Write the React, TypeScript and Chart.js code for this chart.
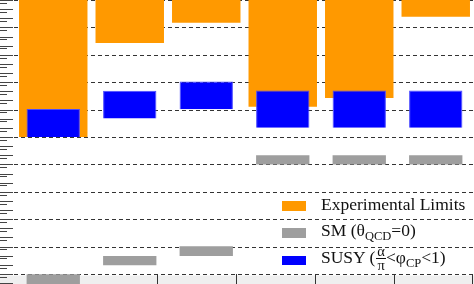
import React, { useEffect, useRef } from "react";
import { Chart, registerables } from "chart.js";

Chart.register(...registerables);

// Categories (axis labels are outside the visible crop)
const categories = ["A", "B", "C", "D", "E", "F"];

// Experimental limits: floating bars from the limit up beyond the top
const expLimitLow = [1.0e5, 2.7e8, 1.48e9, 1.27e6, 2.65e6, 2.46e9];
const expLimitHigh = [1e11, 1e11, 1e11, 1e11, 1e11, 1e11];

// Standard Model predictions
const smLow = [0.3, 2.07, 4.54, 1.0e4, 1.0e4, 1.0e4];
const smHigh = [0.98, 4.54, 10.3, 2.15e4, 2.15e4, 2.15e4];

// SUSY predictions
const susyLow = [1.0e5, 4.7e5, 1.02e6, 2.18e5, 2.18e5, 2.18e5];
const susyHigh = [1.05e6, 4.9e6, 1.07e7, 5.0e6, 5.0e6, 5.0e6];

// Axis range and grid decades
const yMin = 0.4314;
const yMax = 1e10;
const gridDecades = [1, 1e1, 1e2, 1e3, 1e4, 1e5, 1e6, 1e7, 1e8, 1e9, 1e10];
const tickDecadeExponents = [-1, 0, 1, 2, 3, 4, 5, 6, 7, 8, 9, 10];
const longTickOffsets = [0, 1 / 3, 2 / 3];
const shortTickOffset = 0.1;
// bottom frame ticks, in category-index units of the x scale
const frameTicks = [0.33, 1.365, 2.4, 3.43, 4.465, 5.49];

const framePlugin = {
  id: "framePlugin",
  beforeDatasetsDraw(chart: any) {
    const { ctx, scales } = chart;
    const y = scales.y;
    const x = scales.x;
    const W = chart.width;
    const H = chart.height;
    const base = y.getPixelForValue(gridDecades[0]);
    ctx.save();
    // light band below the lowest decade
    ctx.fillStyle = "#efefef";
    ctx.fillRect(0, base + 1.5, W, H - base);
    // dashed decade grid lines
    ctx.strokeStyle = "#333";
    ctx.lineWidth = 1.2;
    ctx.setLineDash([4, 3]);
    for (const d of gridDecades) {
      const p = Math.round(y.getPixelForValue(d)) + 0.5;
      ctx.beginPath();
      ctx.moveTo(0, p);
      ctx.lineTo(W, p);
      ctx.stroke();
    }
    ctx.setLineDash([]);
    // left tick marks
    ctx.strokeStyle = "#444";
    ctx.lineWidth = 1;
    for (const n of tickDecadeExponents) {
      for (const o of longTickOffsets) {
        const pl = Math.round(y.getPixelForValue(Math.pow(10, n - o))) + 0.5;
        ctx.beginPath();
        ctx.moveTo(0, pl);
        ctx.lineTo(13, pl);
        ctx.stroke();
        const ps = Math.round(y.getPixelForValue(Math.pow(10, n - o - shortTickOffset))) + 0.5;
        ctx.beginPath();
        ctx.moveTo(0, ps);
        ctx.lineTo(7, ps);
        ctx.stroke();
      }
    }
    // bottom frame tick marks
    ctx.strokeStyle = "#333";
    for (const t of frameTicks) {
      const px = Math.round(x.getPixelForValue(t)) - 0.5;
      ctx.beginPath();
      ctx.moveTo(px, base);
      ctx.lineTo(px, H);
      ctx.stroke();
    }
    ctx.restore();
  },
};

const serif = '"Liberation Serif", "Times New Roman", serif';

function Legend() {
  const swatch = (color: string, top: number) => (
    <div
      style={{
        position: "absolute",
        left: 282,
        top,
        width: 24,
        height: 9.5,
        background: color,
      }}
    />
  );
  const row = (top: number, content: React.ReactNode) => (
    <div
      style={{
        position: "absolute",
        left: 321,
        top,
        fontFamily: serif,
        fontSize: 17.5,
        lineHeight: "17.5px",
        color: "#111",
        whiteSpace: "nowrap",
      }}
    >
      {content}
    </div>
  );
  const sub = (t: string) => (
    <span style={{ fontSize: 12.5, position: "relative", top: 4 }}>{t}</span>
  );
  return (
    <>
      {swatch("#ff9900", 201)}
      {swatch("#9e9e9e", 228.3)}
      {swatch("#0000ff", 255.7)}
      {row(195.6, <>Experimental Limits</>)}
      {row(
        222.3,
        <>
          SM (θ{sub("QCD")}=0)
        </>
      )}
      {row(
        249.3,
        <>
          SUSY (
          <span
            style={{
              display: "inline-flex",
              flexDirection: "column",
              alignItems: "center",
              fontSize: 14.5,
              lineHeight: "11px",
              position: "relative",
              top: -7,
              margin: "0 0 0 1px",
            }}
          >
            <span style={{ borderBottom: "1px solid #111", padding: "0 1px 1px" }}>α</span>
            <span style={{ paddingTop: 1 }}>π</span>
          </span>
          &lt;φ{sub("CP")}&lt;1)
        </>
      )}
    </>
  );
}

export default function App() {
  const ref = useRef<HTMLCanvasElement | null>(null);
  useEffect(() => {
    if (!ref.current) return;
    const chart = new Chart(ref.current, {
      type: "bar",
      data: {
        labels: categories,
        datasets: [
          {
            label: "Experimental Limits",
            data: categories.map((_, i) => [expLimitLow[i], expLimitHigh[i]]) as any,
            backgroundColor: "#ff9900",
            barPercentage: 0.895,
            categoryPercentage: 1,
            grouped: false,
            order: 3,
          } as any,
          {
            label: "SM",
            data: categories.map((_, i) => [smLow[i], smHigh[i]]) as any,
            backgroundColor: "#9e9e9e",
            barPercentage: 0.697,
            categoryPercentage: 1,
            grouped: false,
            order: 2,
          } as any,
          {
            label: "SUSY",
            data: categories.map((_, i) => [susyLow[i], susyHigh[i]]) as any,
            backgroundColor: "#0000ff",
            borderColor: "#4a4aff",
            borderWidth: 1,
            barPercentage: 0.697,
            categoryPercentage: 1,
            grouped: false,
            order: 1,
          } as any,
        ],
      },
      options: {
        animation: false,
        responsive: false,
        maintainAspectRatio: false,
        layout: { padding: { left: 15, right: 0, top: 0, bottom: 0 } },
        plugins: { legend: { display: false }, tooltip: { enabled: false } },
        scales: {
          x: { display: false },
          y: { type: "logarithmic", display: false, min: yMin, max: yMax },
        },
      },
      plugins: [framePlugin],
    });
    return () => chart.destroy();
  }, []);
  return (
    <div
      style={{
        position: "fixed",
        left: 0,
        top: 0,
        width: 474,
        height: 284,
        overflow: "hidden",
        background: "#fff",
      }}
    >
      <canvas ref={ref} width={474} height={284} style={{ width: 474, height: 284, display: "block" }} />
      <Legend />
    </div>
  );
}
